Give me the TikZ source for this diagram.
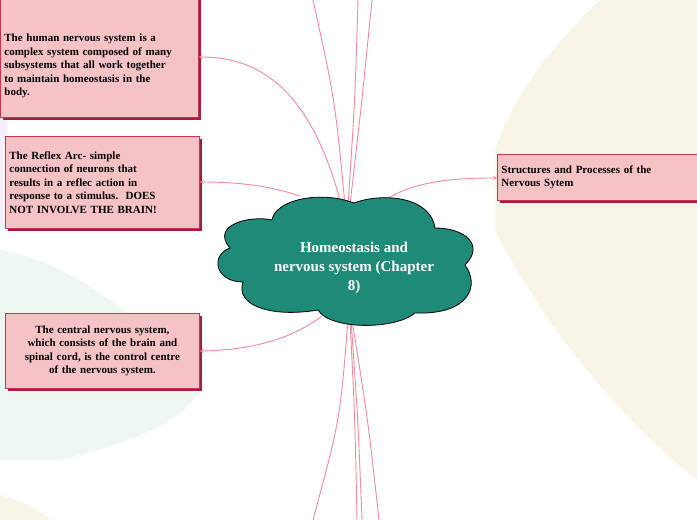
\documentclass[tikz,border=0pt]{standalone}
\usepackage{fontspec}
\setmainfont{Liberation Serif}
\usetikzlibrary{shapes.symbols,arrows.meta,shadows}
\definecolor{boxfill}{HTML}{F5C3C6}
\definecolor{boxedge}{HTML}{C8344F}
\definecolor{shad}{HTML}{A02040}
\definecolor{link}{HTML}{F08A98}
\definecolor{teal}{HTML}{1E8A78}
\definecolor{lav}{HTML}{F6F0FA}
\definecolor{mint}{HTML}{EEF7F2}
\definecolor{beige}{HTML}{F8F4E6}
\tikzset{
 tbox/.style={draw=boxedge,fill=boxfill,line width=0.8pt,align=left,anchor=north west,inner sep=4pt,font=\bfseries\fontsize{11}{13.5}\selectfont,
   general shadow={fill=shad,shadow xshift=3pt,shadow yshift=-3pt}},
 conn/.style={draw=link,line width=0.9pt,-{Stealth[length=4pt,width=4pt]}},
 plain/.style={draw=link,line width=0.9pt}
}
\begin{document}
\begin{tikzpicture}[x=1pt,y=-1pt]
\useasboundingbox (0,0) rectangle (697,520);
% backgrounds
\fill[lav] (0,0) -- (8,0) .. controls (3,60) and (10,120) .. (5,230) -- (0,230) -- cycle;
\fill[mint] (0,250) .. controls (60,260) and (120,300) .. (205,380) .. controls (190,420) and (140,440) .. (60,460) -- (0,460) -- cycle;
\fill[beige] (697,0) -- (600,0) .. controls (560,40) and (520,80) .. (495,150) -- (495,230) .. controls (540,320) and (620,420) .. (697,480) -- cycle;
\fill[beige] (0,495) .. controls (20,500) and (40,510) .. (50,520) -- (0,520) -- cycle;
% nodes
\node[tbox,text width=190pt,minimum height=122pt] (a) at (0,-5) {\\[14pt] The human nervous system is a\\complex system composed of many\\subsystems that all work together\\to maintain homeostasis in the\\body.};
\node[tbox,text width=186pt,minimum height=92pt] (b) at (5,136) {The Reflex Arc- simple\\connection of neurons that\\results in a reflec action in\\response to a stimulus.\ \ DOES\\NOT INVOLVE THE BRAIN!};
\node[tbox,text width=186pt,minimum height=75pt,align=center] (c) at (5,313) {The central nervous system,\\which consists of the brain and\\spinal cord, is the control centre\\of the nervous system.};
\node[tbox,text width=192pt,minimum height=46pt] (d) at (497,154) {Structures and Processes of the\\Nervous Sytem};
% links
\coordinate (t1) at (313,0); \coordinate (t2) at (358,0); \coordinate (t3) at (372,0);
\coordinate (b1) at (313,520); \coordinate (b2) at (357,520); \coordinate (b3) at (362,520); \coordinate (b4) at (379,520);
\draw[plain] (345,205) .. controls (335,100) .. (t1);
\draw[plain] (348,205) .. controls (355,100) .. (t2);
\draw[plain] (350,205) .. controls (362,100) .. (t3);
\draw[plain] (348,320) .. controls (340,420) .. (b1);
\draw[plain] (350,320) .. controls (355,420) .. (b2);
\draw[plain] (351,320) .. controls (358,420) .. (b3);
\draw[plain] (352,320) .. controls (368,420) .. (b4);
\draw[conn] (340,200) .. controls (310,90) and (260,57) .. (a.east|-0,57);
\draw[conn] (300,196) .. controls (270,186) and (240,182) .. (b.east|-0,182);
\draw[conn] (322,316) .. controls (290,340) and (250,350) .. (c.east|-0,351);
\draw[conn] (390,197) .. controls (420,180) and (460,178) .. (d.west|-0,178);
% cloud
\filldraw[draw=black,line width=0.8pt,fill=teal]
 (272,220) .. controls (275,200) and (320,190) .. (354,203)
 .. controls (380,193) and (430,195) .. (435,228)
 .. controls (465,228) and (485,245) .. (465,265)
 .. controls (480,285) and (470,315) .. (415,313)
 .. controls (395,330) and (330,330) .. (318,310)
 .. controls (270,318) and (235,305) .. (243,282)
 .. controls (215,282) and (210,255) .. (230,248)
 .. controls (210,225) and (250,215) .. cycle;
\node[text=white,align=center,font=\bfseries\fontsize{15}{19}\selectfont] (hub) at (354,268) {Homeostasis and\\nervous system (Chapter\\8)};
\end{tikzpicture}
\end{document}
